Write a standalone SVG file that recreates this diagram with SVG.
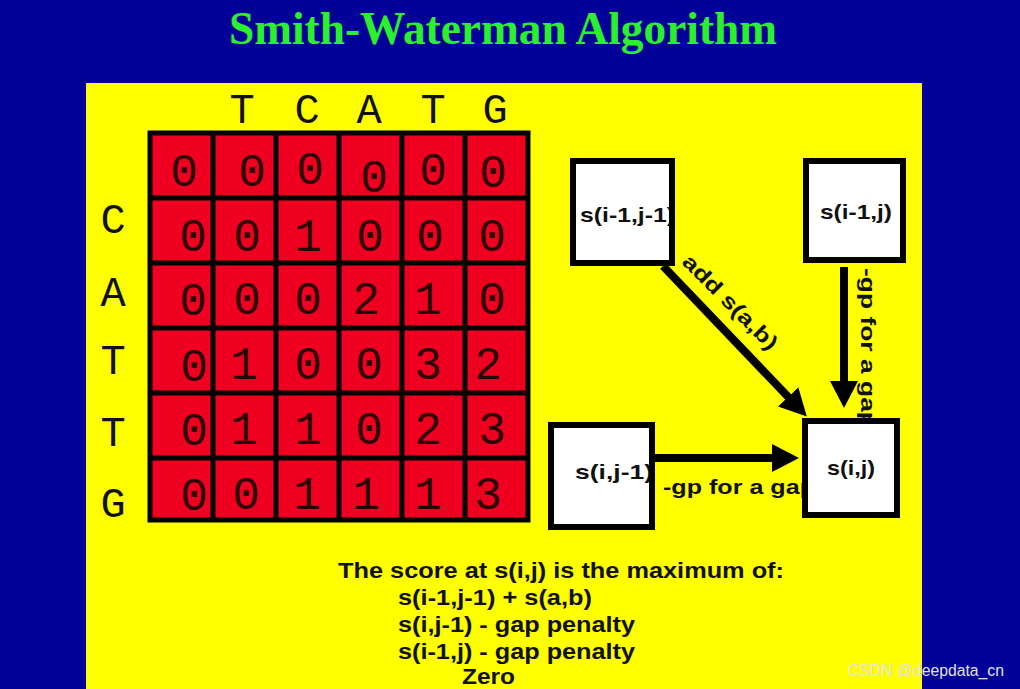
<svg xmlns="http://www.w3.org/2000/svg" width="1020" height="689" viewBox="0 0 1020 689">
<defs>
<style>
.title{font-family:"Liberation Serif","Times New Roman",serif;font-weight:bold;font-size:47px;fill:#2cf02c}
.seq{font-family:"Liberation Mono","Courier New",monospace;font-size:42px;fill:#111}
.num{font-family:"Liberation Mono","Courier New",monospace;font-size:46px;fill:#2a0000;text-anchor:middle}
.lbl{font-family:"Liberation Sans",Arial,sans-serif;font-weight:bold;font-size:21px;fill:#111}
.note{font-family:"Liberation Sans",Arial,sans-serif;font-weight:bold;font-size:22px;fill:#111}
.box{fill:#fff}
.border{fill:none;stroke:#000;stroke-width:6}
.grid{stroke:#000;stroke-width:5;fill:none}
.conn{stroke:#000;stroke-width:8;fill:none;marker-end:url(#ah)}
.wm{font-family:"Liberation Sans",Arial,sans-serif;font-size:16px;fill:#e2e2e2}
</style>
<marker id="ah" markerUnits="userSpaceOnUse" markerWidth="30" markerHeight="30" refX="7" refY="14" orient="auto">
<path d="M0,0 L27,14 L0,28 z" fill="#000"/>
</marker>
</defs>
<rect x="0" y="0" width="1020" height="689" fill="#000099"/>
<rect x="86" y="83" width="836" height="606" fill="#ffff00"/>
<text class="title" x="229" y="44" textLength="548" lengthAdjust="spacingAndGlyphs">Smith-Waterman Algorithm</text>

<g id="matrix">
<rect x="150" y="133" width="378" height="387" fill="#f00020"/>
<path class="grid" d="M150,133H528V520H150Z M213,133V520 M276,133V520 M339,133V520 M402,133V520 M465,133V520 M150,198H528 M150,263H528 M150,328H528 M150,393H528 M150,458H528"/>
<g class="seq" text-anchor="middle">
<text x="242" y="123">T</text><text x="307" y="123">C</text><text x="369" y="123">A</text><text x="433" y="123">T</text><text x="495" y="123">G</text>
<text x="113" y="233">C</text><text x="113" y="306">A</text><text x="113" y="374">T</text><text x="113" y="446">T</text><text x="113" y="517">G</text>
</g>
<g class="num">
<text x="184" y="186">0</text><text x="252" y="186">0</text><text x="310" y="184">0</text><text x="374" y="192">0</text><text x="433" y="185">0</text><text x="493" y="187">0</text>
<text x="193" y="251">0</text><text x="247" y="251">0</text><text x="308" y="251">1</text><text x="370" y="251">0</text><text x="430" y="251">0</text><text x="492" y="251">0</text>
<text x="193" y="315">0</text><text x="247" y="314">0</text><text x="308" y="314">0</text><text x="366" y="314">2</text><text x="428" y="314">1</text><text x="492" y="314">0</text>
<text x="194" y="381">0</text><text x="244" y="379">1</text><text x="308" y="379">0</text><text x="369" y="379">0</text><text x="428" y="379">3</text><text x="488" y="379">2</text>
<text x="194" y="445">0</text><text x="244" y="444">1</text><text x="308" y="444">1</text><text x="369" y="444">0</text><text x="428" y="444">2</text><text x="492" y="444">3</text>
<text x="194" y="510">0</text><text x="246" y="509">0</text><text x="307" y="509">1</text><text x="366" y="509">1</text><text x="428" y="509">1</text><text x="488" y="509">3</text>
</g>
</g>

<g id="connectors">
<path class="conn" d="M663,266 L793,402"/>
<path class="conn" d="M844,267 L844,388"/>
<path class="conn" d="M655,458 L779,458"/>
<text class="lbl" transform="translate(681,263) rotate(45)" textLength="125" lengthAdjust="spacingAndGlyphs">add s(a,b)</text>
<text class="lbl" transform="translate(861,268) rotate(90)" textLength="160" lengthAdjust="spacingAndGlyphs">-gp for a gap</text>
<text class="lbl" x="663" y="494" textLength="152" lengthAdjust="spacingAndGlyphs">-gp for a gap</text>
</g>

<g id="node-diag">
<rect class="box" x="573" y="161" width="99" height="102"/>
<text class="lbl" x="580" y="222" textLength="95" lengthAdjust="spacingAndGlyphs">s(i-1,j-1)</text>
<rect class="border" x="573" y="161" width="99" height="102"/>
</g>
<g id="node-up">
<rect class="box" x="806" y="161" width="97" height="99"/>
<text class="lbl" x="820" y="219" textLength="72" lengthAdjust="spacingAndGlyphs">s(i-1,j)</text>
<rect class="border" x="806" y="161" width="97" height="99"/>
</g>
<g id="node-left">
<rect class="box" x="551" y="425" width="101" height="102"/>
<text class="lbl" x="575" y="479" textLength="78" lengthAdjust="spacingAndGlyphs">s(i,j-1)</text>
<rect class="border" x="551" y="425" width="101" height="102"/>
</g>
<g id="node-cur">
<rect class="box" x="805" y="421" width="92" height="94"/>
<text class="lbl" x="827" y="475" textLength="48" lengthAdjust="spacingAndGlyphs">s(i,j)</text>
<rect class="border" x="805" y="421" width="92" height="94"/>
</g>

<g id="notes">
<text class="note" x="338" y="578" textLength="446" lengthAdjust="spacingAndGlyphs">The score at s(i,j) is the maximum of:</text>
<text class="note" x="398" y="605" textLength="194" lengthAdjust="spacingAndGlyphs">s(i-1,j-1) + s(a,b)</text>
<text class="note" x="398" y="632" textLength="237" lengthAdjust="spacingAndGlyphs">s(i,j-1) - gap penalty</text>
<text class="note" x="398" y="659" textLength="237" lengthAdjust="spacingAndGlyphs">s(i-1,j) - gap penalty</text>
<text class="note" x="462" y="684" textLength="53" lengthAdjust="spacingAndGlyphs">Zero</text>
</g>
<text class="wm" x="848" y="676" textLength="156" lengthAdjust="spacingAndGlyphs">CSDN @deepdata_cn</text>
</svg>
